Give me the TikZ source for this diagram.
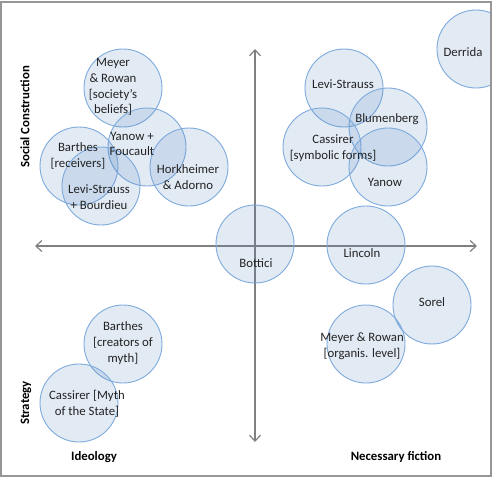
\documentclass[tikz,border=0pt]{standalone}
\usepackage{fontspec}
\setmainfont{Carlito}
\usetikzlibrary{arrows.meta}
\definecolor{bubblefill}{RGB}{79,129,189}
\definecolor{bubbleline}{RGB}{125,170,220}
\definecolor{axisgray}{RGB}{128,128,128}
\definecolor{framegray}{RGB}{150,150,150}
\definecolor{inkgray}{RGB}{35,35,35}

\begin{document}
\begin{tikzpicture}[x=1pt,y=-1pt,>={Straight Barb[length=6pt,width=11pt]},
	  bubble/.style={circle,minimum size=78pt,inner sep=0pt,draw=bubbleline,line width=0.9pt,fill=bubblefill,fill opacity=0.165},
	  axis/.style={draw=axisgray,line width=1.2pt},
	  every node/.append style={font=\fontsize{12.8}{15.6}\selectfont}]
	  \tikzstyle{word} = [align=center,inner sep=0pt,text=inkgray]
	  \tikzstyle{pole} = [inner sep=0pt,text=black,font=\fontsize{12.8}{15.6}\selectfont\bfseries]
	  \useasboundingbox (0,0) rectangle (493,477);
	  \coordinate (ax_w) at (35,246);
	  \coordinate (ax_e) at (477,246);
	  \coordinate (ax_n) at (255,49);
	  \coordinate (ax_s) at (255,442);
	  \draw[axis,<->] (ax_w) -- (ax_e);
	  \draw[axis,<->] (ax_s) -- (ax_n);
	  \begin{scope}
	  \clip (1,2) rectangle (491,476);
	  \node (b_1) [bubble] at (123,88) {};
	  \node (b_2) [bubble] at (147,147) {};
	  \node (b_3) [bubble] at (79,166) {};
	  \node (b_4) [bubble] at (101,186) {};
	  \node (b_5) [bubble] at (189,167) {};
	  \node (b_6) [bubble] at (344,88) {};
	  \node (b_7) [bubble] at (388,127) {};
	  \node (b_8) [bubble] at (322,147) {};
	  \node (b_9) [bubble] at (388,167) {};
	  \node (b_10) [bubble] at (476,49) {};
	  \node (b_11) [bubble] at (255,244) {};
	  \node (b_12) [bubble] at (366,245) {};
	  \node (b_13) [bubble] at (432,305) {};
	  \node (b_14) [bubble] at (366,344) {};
	  \node (b_15) [bubble] at (123,344) {};
	  \node (b_16) [bubble] at (79,403) {};
	  \end{scope}
	  \node (w_1) [word] at (113,87) {Meyer\\\& Rowan\\{[society's}\\beliefs]};
	  \node (w_2) [word] at (132,144) {Yanow +\\Foucault};
	  \node (w_3) [word] at (78,156) {Barthes\\{[receivers]}};
	  \node (w_4) [word] at (99,197) {Levi-Strauss\\+ Bourdieu};
	  \node (w_5) [word] at (188,177) {Horkheimer\\\& Adorno};
	  \node (w_6) [word] at (343,84) {Levi-Strauss};
	  \node (w_7) [word] at (387,119) {Blumenberg};
	  \node (w_8) [word] at (333,148) {Cassirer\\{[symbolic forms]}};
	  \node (w_9) [word] at (385,182) {Yanow};
	  \node (w_10) [word] at (463,52) {Derrida};
	  \node (w_11) [word] at (256,263) {Bottici};
	  \node (w_12) [word] at (362,253) {Lincoln};
	  \node (w_13) [word] at (432,302) {Sorel};
	  \node (w_14) [word] at (362,346) {Meyer \& Rowan\\{[organis. level]}};
	  \node (w_15) [word] at (123,343) {Barthes\\{[creators of}\\myth]};
	  \node (w_16) [word] at (87,404) {Cassirer [Myth\\of the State]};
	  \node (p_1) [pole,rotate=90] at (25,117) {Social Construction};
	  \node (p_2) [pole,rotate=90] at (26,403) {Strategy};
	  \node (p_3) [pole] at (94,457) {Ideology};
	  \node (p_4) [pole] at (396,457) {Necessary fiction};
	  \draw[framegray,line width=1.6pt] (1,2) rectangle (491,476);
	\end{tikzpicture}
\end{document}
